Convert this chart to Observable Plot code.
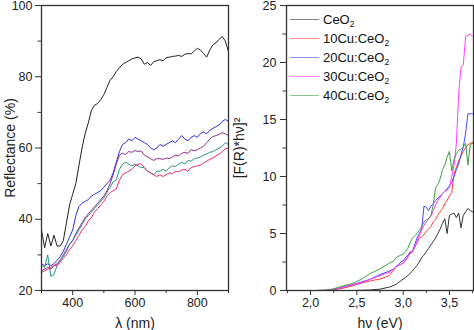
<!DOCTYPE html>
<html><head><meta charset="utf-8">
<script src="https://cdn.jsdelivr.net/npm/d3@7"></script>
<script src="https://cdn.jsdelivr.net/npm/@observablehq/plot@0.6"></script>
<style>
body{margin:0;background:#fff;}
#wrap{position:relative;width:474px;height:330px;overflow:hidden;font-family:"Liberation Sans",Arial,sans-serif;background:#fff;}
#left{position:absolute;left:0;top:0;}
#right{position:absolute;left:232px;top:0;}
#legend{position:absolute;left:290px;top:9.5px;font-size:13px;color:#111;}
.row{display:flex;align-items:center;height:19px;white-space:nowrap;}
.sw{width:29px;height:0;border-top:1.5px solid;margin-right:4px;opacity:0.6;}
.row sub{font-size:8.5px;vertical-align:-3px;line-height:0;}
</style></head>
<body><div id="wrap"><div id="left"></div><div id="right"></div><div id="legend"></div></div>
<script>
// ---------- Left panel: reflectance spectra ----------
const wavelength = [300,310,320,330,340,350,360,370,380,390,400,410,420,430,440,450,460,470,480,490,500,510,520,530,540,550,560,570,580,590,600,610,620,630,640,650,660,670,680,690,700,710,720,730,740,750,760,770,780,790,800,810,820,830,840,850,860,870,880,890,900];
const reflBlack = [37,32,36,32.5,35.5,32.5,32.5,34,39,44, 47,50,55,60,64,67,70.5,72,72.5,73.5, 75,77,79,80,81.5,82.5,83.5,84,84.5,85, 85.3,85.5,85,83.5,84,83.2,84.2,84.5,84.8,84.5, 85.3,85.5,85.7,85.8,86,85.7,86.3,86.5,86.4,87.2, 88,87.5,86.5,85.5,87.5,89,89.5,90.5,91.3,90, 87];
const reflBlue = [27.5,27,27.5,27,27.5,28.5,29.5,31,33,35, 37,41,43.5,44.5,45,45.5,46.5,47,47.5,48, 49,50,51,53,56,59,61,61.5,62.5,62, 63,62.5,62,61.5,61,60,59.5,60,61,60.5, 61,61.5,62,61.5,62.5,63.5,62.5,62,63,63.5, 63,64,64.5,64,65,65.5,66,66.5,67.5,68, 67.5];
const reflPurple = [25.5,26,26.5,26,27,27.5,28.5,30,31.5,33, 34,36,37.5,39,40.5,41.5,42.5,43.5,44.5,45.5, 46.5,48,50,52.5,55.5,58,58.5,58.2,59,58.8, 59.3,59,59.2,58,57.5,57,56.5,57,57,56.8, 57.2,57,57.5,58,57.8,58.5,58.8,58.5,59.5,59.2, 59.5,60,60.5,61.5,62.5,63.2,63.5,63.8,64.3,64, 63.5];
const reflTeal = [27,26.5,30,24,24.5,27,28.5,29.5,31,33, 34,35.5,37,38.5,40,41,42,43,44,45, 46,47.5,49,50.5,51,54,55.5,56,55.5,55, 55.5,55,54.5,54.5,53.5,53,52.5,53.5,53.5,54, 53.5,54.5,55,54.8,55.5,56,55.5,56.5,56.3,57, 57.2,57.5,58,58.3,58.8,59,59.5,60,60.5,61.5, 61];
const reflPink = [25,25.5,26,26.5,27,27,28,29,30,31.5, 32.5,34,35.5,37,38,39.5,40.5,42,43,44, 45,46.5,47.5,48,48.5,51,52.5,53,53.5,54, 55,55.5,55.5,54.5,53.5,53,52.5,52,52.5,52, 52.5,53,52.8,53.5,53.3,53.8,54,53.5,54.5,54.8, 55,55.2,55.8,56.3,56.8,57.2,57.8,58.3,59,59.8, 60];
const leftColors = ["#222222","#3030e0","#922c92","#2c9282","#ec2c68"];
const leftXTicks = [400,600,800];
const leftXMinor = [300,500,700,900];
const leftYTicks = [20,40,60,80,100];
const leftYMinor = [30,50,70,90];

// ---------- Right panel: Kubelka-Munk (Tauc) ----------
const energy = [1.75,1.85,1.95,2.05,2.15,2.25,2.35,2.45,2.55,2.65,2.75,2.85, 2.9,2.925,2.95,2.975,3.0,3.025,3.05,3.075,3.1,3.125,3.15,3.175,3.2,3.225,3.25,3.275,3.3,3.325,3.35,3.375,3.4,3.425,3.45,3.475,3.5,3.525,3.55,3.575,3.6,3.625,3.65,3.675,3.7,3.725,3.75];
const kmCeO2 = [0,0,0,0,0,0,0,0,0.02,0.05,0.12,0.3, 0.45,0.55,0.7,0.85,1.0,1.15,1.3,1.5,1.7,1.95,2.2,2.5,2.9,3.1,3.4,3.7,4.0,4.3,4.6,5.0,5.4,5.9,6.3,5.0,6.6,6.7,6.8,6.4,6.8,5.5,6.6,6.9,7.2,7.0,6.9];
const km10Cu = [0,0,0,0,0,0.05,0.2,0.4,0.65,0.85,1.0,1.3, 1.8,2.1,2.2,2.3,2.4,2.6,2.9,3.4,3.4,3.8,4.2,4.6,4.7,4.9,5.2,5.4,5.6,6.0,6.2,6.6,6.9,7.2,7.6,7.9,8.3,8.6,10.2,10.8,11.4,11.8,12.2,12.5,12.8,12.9,13.0];
const km20Cu = [0,0,0,0,0.02,0.1,0.3,0.5,0.75,1.0,1.4,1.7, 1.9,2.1,2.3,2.5,2.6,2.9,3.1,3.3,3.4,4.0,4.6,5.0,5.4,7.4,7.3,7.0,7.4,7.6,7.9,8.1,8.3,8.5,8.7,8.9,9.2,9.5,10.0,10.6,11.1,11.9,12.6,13.8,15.5,15.5,15.5];
const km30Cu = [0,0,0,0,0.02,0.1,0.3,0.5,0.7,1.0,1.3,1.6, 1.9,2.1,2.2,2.3,2.4,2.7,3.0,3.2,3.4,3.8,4.3,4.8,5.3,5.7,6.0,6.3,6.5,7.0,7.5,7.9,8.2,8.5,8.7,8.8,9.0,10.0,11.0,12.9,17.3,19.6,19.8,22.3,22.4,22.5,22.3];
const km40Cu = [0,0,0,0,0.02,0.15,0.4,0.6,1.0,1.5,1.9,2.4, 2.6,2.9,3.0,3.1,3.2,3.4,3.7,4.2,4.6,4.8,5.0,5.3,5.6,6.0,6.2,6.3,6.6,7.5,9.0,9.3,9.8,10.6,11.0,11.7,12.2,10.5,11.5,12.0,12.3,12.4,12.6,12.9,11.0,12.8,12.9];
const seriesNames = ["CeO2","10Cu:CeO2","20Cu:CeO2","30Cu:CeO2","40Cu:CeO2"];
const rightColors = ["#333333","#ff3b3b","#4646ff","#ff3cff","#3f9f3f"];
const rightXTicks = [2.0,2.5,3.0,3.5];
const rightXMinor = [1.75,2.25,2.75,3.25,3.75];
const rightYTicks = [0,5,10,15,20,25];
const rightYMinor = [2.5,7.5,12.5,17.5,22.5];

// ---------- tidy data ----------
const leftArrays = [reflBlack, reflBlue, reflPurple, reflTeal, reflPink];
const leftData = leftArrays.flatMap((arr, i) => arr.map((v, j) => ({x: wavelength[j], y: v, s: i, c: leftColors[i]})));
const rightArrays = [kmCeO2, km10Cu, km20Cu, km30Cu, km40Cu];
const rightData = rightArrays.flatMap((arr, i) => arr.map((v, j) => ({x: energy[j], y: v, s: i, c: rightColors[i]})));

const font = '"Liberation Sans", Arial, sans-serif';
const baseStyle = {fontFamily: font, fontSize: "12.5px", color: "#222", background: "white", overflow: "visible"};
const blank = () => "";

const left = Plot.plot({
  width: 232, height: 330,
  marginLeft: 41, marginRight: 4, marginTop: 5, marginBottom: 40,
  style: baseStyle,
  x: {domain: [300, 900]},
  y: {domain: [20, 100]},
  color: {type: "identity"},
  marks: [
    Plot.line(leftData, {x: "x", y: "y", z: "s", stroke: "c", strokeWidth: 1, clip: true}),
    Plot.axisX({ticks: leftXTicks, tickSize: 5, tickPadding: 3, label: null, stroke: "#333"}),
    Plot.axisX({ticks: leftXMinor, tickSize: 3, tickFormat: blank, label: null, stroke: "#333"}),
    Plot.axisX({ticks: [], tickSize: 0, label: "λ (nm)", labelAnchor: "center", labelArrow: "none", labelOffset: 37, fontSize: 14}),
    Plot.axisY({ticks: leftYTicks, tickSize: 6, tickPadding: 3, label: null, stroke: "#333"}),
    Plot.axisY({ticks: leftYMinor, tickSize: 3.5, tickFormat: blank, label: null, stroke: "#333"}),
    Plot.axisY({ticks: [], tickSize: 0, label: "Reflectance (%)", labelAnchor: "center", labelArrow: "none", labelOffset: 36, fontSize: 14}),
    Plot.frame({stroke: "#333", strokeWidth: 1.3})
  ]
});
document.getElementById("left").appendChild(left);

const fmtComma = d => d.toFixed(1).replace(".", ",");
const right = Plot.plot({
  width: 242, height: 330,
  marginLeft: 54, marginRight: 1, marginTop: 5, marginBottom: 40,
  style: baseStyle,
  x: {domain: [1.74, 3.76]},
  y: {domain: [0, 25]},
  color: {type: "identity"},
  marks: [
    Plot.line(rightData, {x: "x", y: "y", z: "s", stroke: "c", strokeWidth: 1, clip: true}),
    Plot.axisX({ticks: rightXTicks, tickSize: 5, tickPadding: 3, tickFormat: fmtComma, label: null, stroke: "#333"}),
    Plot.axisX({ticks: rightXMinor, tickSize: 3, tickFormat: blank, label: null, stroke: "#333"}),
    Plot.axisX({ticks: [], tickSize: 0, label: "hν (eV)", labelAnchor: "center", labelArrow: "none", labelOffset: 37, fontSize: 14}),
    Plot.axisY({ticks: rightYTicks, tickSize: 6, tickPadding: 4, label: null, stroke: "#333"}),
    Plot.axisY({ticks: rightYMinor, tickSize: 3.5, tickFormat: blank, label: null, stroke: "#333"}),
    Plot.axisY({ticks: [], tickSize: 0, label: "[F(R)*hν]²", labelAnchor: "center", labelArrow: "none", labelOffset: 52, fontSize: 14}),
    Plot.frame({stroke: "#333", strokeWidth: 1.3})
  ]
});
document.getElementById("right").appendChild(right);

// legend inside right panel
const legend = document.getElementById("legend");
seriesNames.forEach((name, i) => {
  const row = document.createElement("div");
  row.className = "row";
  const sw = document.createElement("span");
  sw.className = "sw";
  sw.style.borderTopColor = rightColors[i];
  const label = document.createElement("span");
  label.appendChild(document.createTextNode(name.slice(0, -1)));
  const sub = document.createElement("sub");
  sub.textContent = name.slice(-1);
  label.appendChild(sub);
  row.appendChild(sw);
  row.appendChild(label);
  legend.appendChild(row);
});
</script>
</body></html>
